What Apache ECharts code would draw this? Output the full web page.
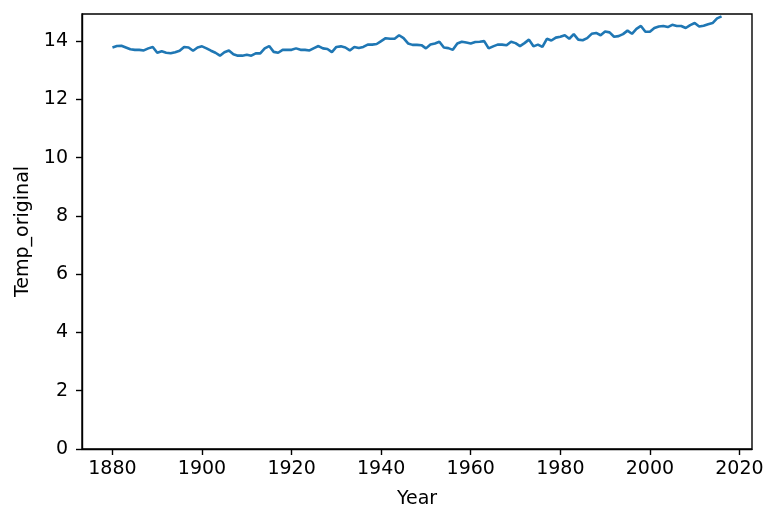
<!DOCTYPE html>
<html>
<head>
<meta charset="utf-8">
<script src="https://cdn.jsdelivr.net/npm/echarts@6/dist/echarts.min.js"></script>
<style>
  html, body { margin: 0; padding: 0; background: #fff; }
  #chart-div { width: 778px; height: 523px; }
</style>
</head>
<body>
<div id="chart-div"></div>
<script>
// yearly values, 1880..2016
const startYear = 1880;
const tempOriginal = [
  13.78, 13.83, 13.84, 13.78, 13.72, 13.70, 13.70, 13.68, 13.75, 13.80,
  13.60, 13.65, 13.60, 13.58, 13.62, 13.67, 13.80, 13.78, 13.67, 13.78,
  13.82, 13.75, 13.67, 13.60, 13.50, 13.62, 13.68, 13.55, 13.50, 13.50,
  13.53, 13.50, 13.58, 13.58, 13.75, 13.83, 13.63, 13.60, 13.70, 13.70,
  13.70, 13.75, 13.70, 13.70, 13.68, 13.76, 13.83, 13.75, 13.73, 13.62,
  13.80, 13.82, 13.78, 13.68, 13.80, 13.76, 13.80, 13.88, 13.88, 13.90,
  14.00, 14.10, 14.08, 14.08, 14.20, 14.10, 13.92, 13.87, 13.87, 13.86,
  13.75, 13.88, 13.92, 13.98, 13.78, 13.76, 13.70, 13.92, 13.98, 13.95,
  13.92, 13.97, 13.98, 14.00, 13.75, 13.82, 13.88, 13.88, 13.86, 13.98,
  13.93, 13.83, 13.93, 14.05, 13.82, 13.88, 13.80, 14.08, 14.02, 14.12,
  14.15, 14.20, 14.08, 14.24, 14.05, 14.03, 14.10, 14.25, 14.28, 14.20,
  14.33, 14.30, 14.15, 14.17, 14.24, 14.36, 14.25, 14.42, 14.52, 14.32,
  14.32, 14.45, 14.50, 14.52, 14.48, 14.56, 14.52, 14.52, 14.45, 14.55,
  14.62, 14.50, 14.53, 14.58, 14.62, 14.78, 14.85
];
const years = tempOriginal.map((v, i) => startYear + i);
const xTicks = [1880, 1900, 1920, 1940, 1960, 1980, 2000, 2020];
const yTicks = [0, 2, 4, 6, 8, 10, 12, 14];

const points = years.map((y, i) => [y, tempOriginal[i]]);

var myChart = echarts.init(document.getElementById('chart-div'));
const font = 'DejaVu Sans';
const fs = 19;

myChart.setOption({
  backgroundColor: '#fff',
  animation: false,
  grid: {
    left: 82,
    right: 26,
    top: 14,
    bottom: 74,
    show: true,
    borderColor: '#000',
    borderWidth: 1.4,
  },
  xAxis: {
    type: 'value',
    min: 1873.2,
    max: 2022.8,
    interval: 20,
    name: 'Year',
    nameLocation: 'middle',
    nameGap: 41,
    nameTextStyle: { fontFamily: font, fontSize: fs, color: '#000', verticalAlign: 'top' },
    splitLine: { show: false },
    axisLine: { show: true, lineStyle: { color: '#000', width: 1.4 } },
    axisTick: {
      show: true,
      length: 6,
      lineStyle: { color: '#000', width: 1.4 },
      customValues: xTicks,
    },
    axisLabel: {
      fontFamily: font,
      fontSize: fs,
      color: '#000',
      margin: 11,
      customValues: xTicks,
      formatter: v => String(v),
    },
  },
  yAxis: {
    type: 'value',
    min: 0,
    max: 14.93,
    interval: 2,
    name: 'Temp_original',
    nameLocation: 'middle',
    nameGap: 47,
    nameTextStyle: { fontFamily: font, fontSize: fs, color: '#000' },
    splitLine: { show: false },
    axisLine: { show: true, lineStyle: { color: '#000', width: 1.4 } },
    axisTick: {
      show: true,
      length: 6,
      lineStyle: { color: '#000', width: 1.4 },
      customValues: yTicks,
    },
    axisLabel: {
      fontFamily: font,
      fontSize: fs,
      color: '#000',
      margin: 14,
      customValues: yTicks,
      formatter: v => String(v),
    },
  },
  series: [
    {
      name: 'Temp_original',
      type: 'line',
      data: points,
      showSymbol: false,
      clip: true,
      lineStyle: { color: '#1f77b4', width: 2.6 },
    },
  ],
});
</script>
</body>
</html>
